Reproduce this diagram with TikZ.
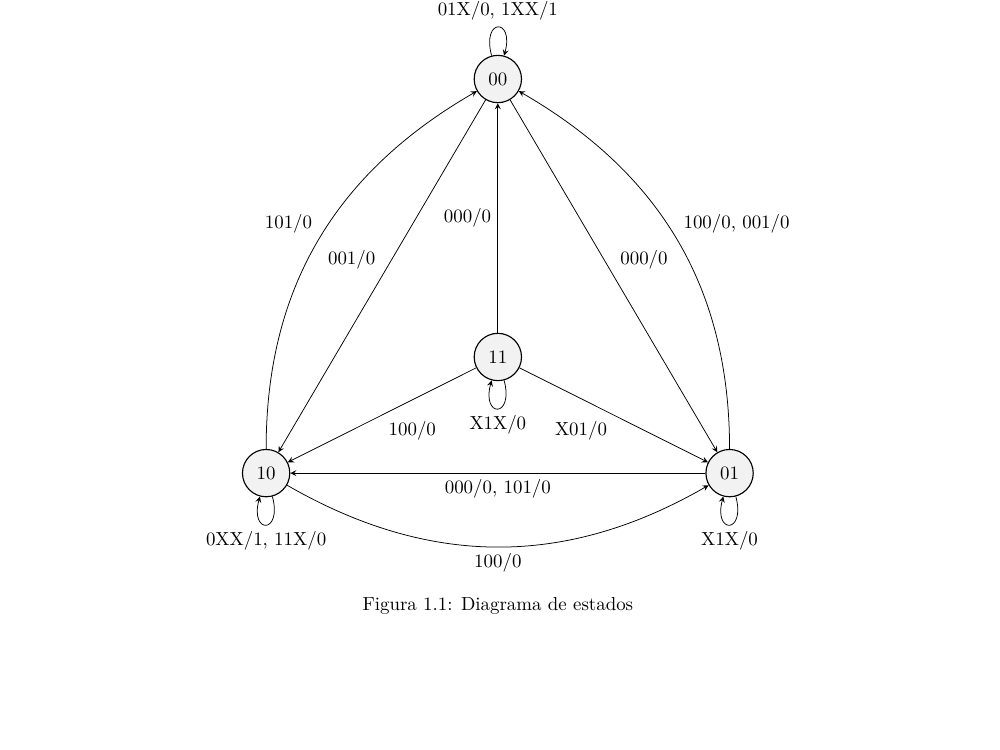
\documentclass[tikz,border=0pt]{standalone}
\usetikzlibrary{arrows}
\begin{document}
\begin{tikzpicture}[>=stealth]
\tikzset{state/.style={circle, draw, semithick, fill=gray!10, minimum size=0.88cm},
         loopdown/.style={out=-75, in=-105, loop}}
\useasboundingbox (-9.26,-7.31) rectangle (9.34,6.64);
% states
\node[state] (s00) at (0,5.17) {00};
\node[state] (s11) at (0,0) {11};
\node[state] (s10) at (-4.31,-2.16) {10};
\node[state] (s01) at (4.31,-2.16) {01};
% transitions
\draw[->] (s11) -- node[left] {000/0} (s00);
\draw[->] (s00) -- node[above left] {001/0} (s10);
\draw[->] (s00) -- node[above right] {000/0} (s01);
\draw[->] (s10) to[out=90, in=210] node[above left] {101/0} (s00);
\draw[->] (s01) to[out=90, in=-30] node[above right] {100/0, 001/0} (s00);
\draw[->] (s11) -- node[below right] {100/0} (s10);
\draw[->] (s11) -- node[below left] {X01/0} (s01);
\draw[->] (s01) -- node[below] {000/0, 101/0} (s10);
\draw[->] (s10) to[bend right=30] node[below] {100/0} (s01);
% self loops
\draw[->] (s00) to[loop above] node[above] {01X/0, 1XX/1} (s00);
\draw[->] (s11) to[loopdown] node[below] {X1X/0} (s11);
\draw[->] (s10) to[loopdown] node[below] {0XX/1, 11X/0} (s10);
\draw[->] (s01) to[loopdown] node[below] {X1X/0} (s01);
\node (cap) at (0,-4.63) {Figura 1.1: Diagrama de estados};
\end{tikzpicture}
\end{document}
